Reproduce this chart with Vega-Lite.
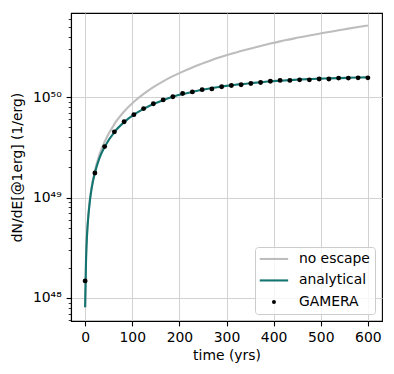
{
  "$schema": "https://vega.github.io/schema/vega-lite/v6.json",
  "width": 311,
  "height": 308,
  "autosize": "none",
  "padding": {"left": 71, "top": 13, "right": 12, "bottom": 53},
  "background": "white",
  "config": {
    "view": {"stroke": "black", "strokeWidth": 1.1},
    "font": "DejaVu Sans",
    "axis": {
      "labelFont": "DejaVu Sans", "labelFontSize": 13.9, "labelColor": "black",
      "titleFont": "DejaVu Sans", "titleFontSize": 13.9, "titleFontWeight": "normal", "titleColor": "black",
      "domainColor": "black", "domainWidth": 1.1, "tickColor": "black",
      "gridColor": "#d2d2d2", "gridWidth": 1, "labelPadding": 4.9
    }
  },
  "datasets": {
    "curves": [
      {"t": 0, "v": 8.1e47, "series": "no escape"},
      {"t": 2, "v": 2.5e48, "series": "no escape"},
      {"t": 4, "v": 4.3e48, "series": "no escape"},
      {"t": 7, "v": 6.8e48, "series": "no escape"},
      {"t": 10, "v": 9.5e48, "series": "no escape"},
      {"t": 14, "v": 1.3e49, "series": "no escape"},
      {"t": 20.69, "v": 1.85e49, "series": "no escape"},
      {"t": 30, "v": 2.65e49, "series": "no escape"},
      {"t": 41.38, "v": 3.6e49, "series": "no escape"},
      {"t": 62.07, "v": 5.4e49, "series": "no escape"},
      {"t": 82.76, "v": 7.2e49, "series": "no escape"},
      {"t": 103.45, "v": 9.0e49, "series": "no escape"},
      {"t": 124.14, "v": 1.08e50, "series": "no escape"},
      {"t": 144.83, "v": 1.26e50, "series": "no escape"},
      {"t": 165.52, "v": 1.44e50, "series": "no escape"},
      {"t": 186.21, "v": 1.62e50, "series": "no escape"},
      {"t": 206.9, "v": 1.8e50, "series": "no escape"},
      {"t": 227.59, "v": 1.98e50, "series": "no escape"},
      {"t": 248.28, "v": 2.16e50, "series": "no escape"},
      {"t": 268.97, "v": 2.35e50, "series": "no escape"},
      {"t": 289.66, "v": 2.53e50, "series": "no escape"},
      {"t": 310.34, "v": 2.71e50, "series": "no escape"},
      {"t": 331.03, "v": 2.88e50, "series": "no escape"},
      {"t": 351.72, "v": 3.06e50, "series": "no escape"},
      {"t": 372.41, "v": 3.24e50, "series": "no escape"},
      {"t": 393.1, "v": 3.42e50, "series": "no escape"},
      {"t": 413.79, "v": 3.6e50, "series": "no escape"},
      {"t": 434.48, "v": 3.77e50, "series": "no escape"},
      {"t": 455.17, "v": 3.95e50, "series": "no escape"},
      {"t": 475.86, "v": 4.12e50, "series": "no escape"},
      {"t": 496.55, "v": 4.29e50, "series": "no escape"},
      {"t": 517.24, "v": 4.47e50, "series": "no escape"},
      {"t": 537.93, "v": 4.64e50, "series": "no escape"},
      {"t": 558.62, "v": 4.82e50, "series": "no escape"},
      {"t": 579.31, "v": 5.0e50, "series": "no escape"},
      {"t": 600, "v": 5.18e50, "series": "no escape"},
      {"t": 0, "v": 8.1e47, "series": "analytical"},
      {"t": 2, "v": 2.5e48, "series": "analytical"},
      {"t": 4, "v": 4.2e48, "series": "analytical"},
      {"t": 7, "v": 6.7e48, "series": "analytical"},
      {"t": 10, "v": 9.2e48, "series": "analytical"},
      {"t": 14, "v": 1.25e49, "series": "analytical"},
      {"t": 20.69, "v": 1.76e49, "series": "analytical"},
      {"t": 30, "v": 2.45e49, "series": "analytical"},
      {"t": 41.38, "v": 3.2e49, "series": "analytical"},
      {"t": 62.07, "v": 4.5e49, "series": "analytical"},
      {"t": 82.76, "v": 5.65e49, "series": "analytical"},
      {"t": 103.45, "v": 6.7e49, "series": "analytical"},
      {"t": 124.14, "v": 7.65e49, "series": "analytical"},
      {"t": 144.83, "v": 8.55e49, "series": "analytical"},
      {"t": 165.52, "v": 9.35e49, "series": "analytical"},
      {"t": 186.21, "v": 1.01e50, "series": "analytical"},
      {"t": 206.9, "v": 1.075e50, "series": "analytical"},
      {"t": 227.59, "v": 1.13e50, "series": "analytical"},
      {"t": 248.28, "v": 1.185e50, "series": "analytical"},
      {"t": 268.97, "v": 1.235e50, "series": "analytical"},
      {"t": 289.66, "v": 1.28e50, "series": "analytical"},
      {"t": 310.34, "v": 1.315e50, "series": "analytical"},
      {"t": 331.03, "v": 1.35e50, "series": "analytical"},
      {"t": 351.72, "v": 1.38e50, "series": "analytical"},
      {"t": 372.41, "v": 1.41e50, "series": "analytical"},
      {"t": 393.1, "v": 1.44e50, "series": "analytical"},
      {"t": 413.79, "v": 1.46e50, "series": "analytical"},
      {"t": 434.48, "v": 1.48e50, "series": "analytical"},
      {"t": 455.17, "v": 1.5e50, "series": "analytical"},
      {"t": 475.86, "v": 1.515e50, "series": "analytical"},
      {"t": 496.55, "v": 1.53e50, "series": "analytical"},
      {"t": 517.24, "v": 1.54e50, "series": "analytical"},
      {"t": 537.93, "v": 1.55e50, "series": "analytical"},
      {"t": 558.62, "v": 1.56e50, "series": "analytical"},
      {"t": 579.31, "v": 1.57e50, "series": "analytical"},
      {"t": 600, "v": 1.575e50, "series": "analytical"}
    ],
    "gamera": [
      {"t": 0, "v": 1.48e48, "series": "GAMERA"},
      {"t": 20.69, "v": 1.76e49, "series": "GAMERA"},
      {"t": 41.38, "v": 3.22e49, "series": "GAMERA"},
      {"t": 62.07, "v": 4.52e49, "series": "GAMERA"},
      {"t": 82.76, "v": 5.69e49, "series": "GAMERA"},
      {"t": 103.45, "v": 6.7e49, "series": "GAMERA"},
      {"t": 124.14, "v": 7.7e49, "series": "GAMERA"},
      {"t": 144.83, "v": 8.6e49, "series": "GAMERA"},
      {"t": 165.52, "v": 9.4e49, "series": "GAMERA"},
      {"t": 186.21, "v": 1.01e50, "series": "GAMERA"},
      {"t": 206.9, "v": 1.09e50, "series": "GAMERA"},
      {"t": 227.59, "v": 1.13e50, "series": "GAMERA"},
      {"t": 248.28, "v": 1.19e50, "series": "GAMERA"},
      {"t": 268.97, "v": 1.21e50, "series": "GAMERA"},
      {"t": 289.66, "v": 1.27e50, "series": "GAMERA"},
      {"t": 310.34, "v": 1.31e50, "series": "GAMERA"},
      {"t": 331.03, "v": 1.33e50, "series": "GAMERA"},
      {"t": 351.72, "v": 1.37e50, "series": "GAMERA"},
      {"t": 372.41, "v": 1.4e50, "series": "GAMERA"},
      {"t": 393.1, "v": 1.44e50, "series": "GAMERA"},
      {"t": 413.79, "v": 1.47e50, "series": "GAMERA"},
      {"t": 434.48, "v": 1.47e50, "series": "GAMERA"},
      {"t": 455.17, "v": 1.49e50, "series": "GAMERA"},
      {"t": 475.86, "v": 1.49e50, "series": "GAMERA"},
      {"t": 496.55, "v": 1.52e50, "series": "GAMERA"},
      {"t": 517.24, "v": 1.52e50, "series": "GAMERA"},
      {"t": 537.93, "v": 1.55e50, "series": "GAMERA"},
      {"t": 558.62, "v": 1.55e50, "series": "GAMERA"},
      {"t": 579.31, "v": 1.56e50, "series": "GAMERA"},
      {"t": 600, "v": 1.56e50, "series": "GAMERA"}
    ]
  },
  "encoding": {
    "x": {
      "field": "t", "type": "quantitative",
      "scale": {"domain": [-30, 630], "nice": false, "zero": false},
      "axis": {"title": "time (yrs)", "values": [0, 100, 200, 300, 400, 500, 600], "tickSize": 4.9, "tickWidth": 1.1, "titlePadding": 4, "grid": true}
    },
    "y": {
      "field": "v", "type": "quantitative",
      "scale": {"type": "log", "domain": [5.9e47, 6.9e50], "nice": false},
      "axis": {
        "title": "dN/dE[@1erg] (1/erg)",
        "values": [6e47, 7e47, 8e47, 9e47, 1e48, 2e48, 3e48, 4e48, 5e48, 6e48, 7e48, 8e48, 9e48, 1e49, 2e49, 3e49, 4e49, 5e49, 6e49, 7e49, 8e49, 9e49, 1e50, 2e50, 3e50, 4e50, 5e50, 6e50],
        "labelExpr": "datum.value == 1e48 ? '10⁴⁸' : datum.value == 1e49 ? '10⁴⁹' : datum.value == 1e50 ? '10⁵⁰' : ''",
        "tickSize": {"condition": {"test": "datum.value == 1e48 || datum.value == 1e49 || datum.value == 1e50", "value": 4.9}, "value": 2.8},
        "tickWidth": {"condition": {"test": "datum.value == 1e48 || datum.value == 1e49 || datum.value == 1e50", "value": 1.1}, "value": 0.8},
        "gridOpacity": {"condition": {"test": "datum.value == 1e48 || datum.value == 1e49 || datum.value == 1e50", "value": 1}, "value": 0},
        "grid": true,
        "titlePadding": 8
      }
    }
  },
  "layer": [
    {
      "data": {"name": "curves"},
      "mark": {"type": "line", "strokeWidth": 2.1, "interpolate": "monotone"},
      "encoding": {
        "color": {
          "field": "series", "type": "nominal",
          "scale": {"domain": ["no escape", "analytical", "GAMERA"], "range": ["#bdbdbd", "#137470", "black"]},
          "legend": {
            "title": null, "orient": "bottom-right", "offset": 7,
            "fillColor": "rgba(255,255,255,0.8)", "strokeColor": "#cccccc", "cornerRadius": 3, "padding": 5,
            "labelFont": "DejaVu Sans", "labelFontSize": 13.9, "labelColor": "black",
            "symbolSize": 196, "symbolOffset": 7, "labelOffset": 18, "rowPadding": 6.5,
            "encode": {"symbols": {"update": {
              "shape": {"signal": "datum.value == 'GAMERA' ? 'circle' : 'M-2.03,0H2.03'"},
              "size": {"signal": "datum.value == 'GAMERA' ? 16 : 196"},
              "fill": {"signal": "datum.value == 'GAMERA' ? 'black' : 'transparent'"},
              "stroke": {"signal": "datum.value == 'GAMERA' ? 'transparent' : scale('color', datum.value)"},
              "strokeWidth": {"signal": "datum.value == 'GAMERA' ? 0 : 2.1"},
              "opacity": {"value": 1}
            }}}
          }
        },
        "detail": {"field": "series"}
      }
    },
    {
      "data": {"name": "gamera"},
      "mark": {"type": "point", "filled": true, "size": 24, "opacity": 1},
      "encoding": {
        "color": {
          "field": "series", "type": "nominal",
          "scale": {"domain": ["no escape", "analytical", "GAMERA"], "range": ["#bdbdbd", "#137470", "black"]},
          "legend": {
            "title": null, "orient": "bottom-right", "offset": 7,
            "fillColor": "rgba(255,255,255,0.8)", "strokeColor": "#cccccc", "cornerRadius": 3, "padding": 5,
            "labelFont": "DejaVu Sans", "labelFontSize": 13.9, "labelColor": "black",
            "symbolSize": 196, "symbolOffset": 7, "labelOffset": 18, "rowPadding": 6.5,
            "encode": {"symbols": {"update": {
              "shape": {"signal": "datum.value == 'GAMERA' ? 'circle' : 'M-2.03,0H2.03'"},
              "size": {"signal": "datum.value == 'GAMERA' ? 16 : 196"},
              "fill": {"signal": "datum.value == 'GAMERA' ? 'black' : 'transparent'"},
              "stroke": {"signal": "datum.value == 'GAMERA' ? 'transparent' : scale('color', datum.value)"},
              "strokeWidth": {"signal": "datum.value == 'GAMERA' ? 0 : 2.1"},
              "opacity": {"value": 1}
            }}}
          }
        }
      }
    }
  ]
}
